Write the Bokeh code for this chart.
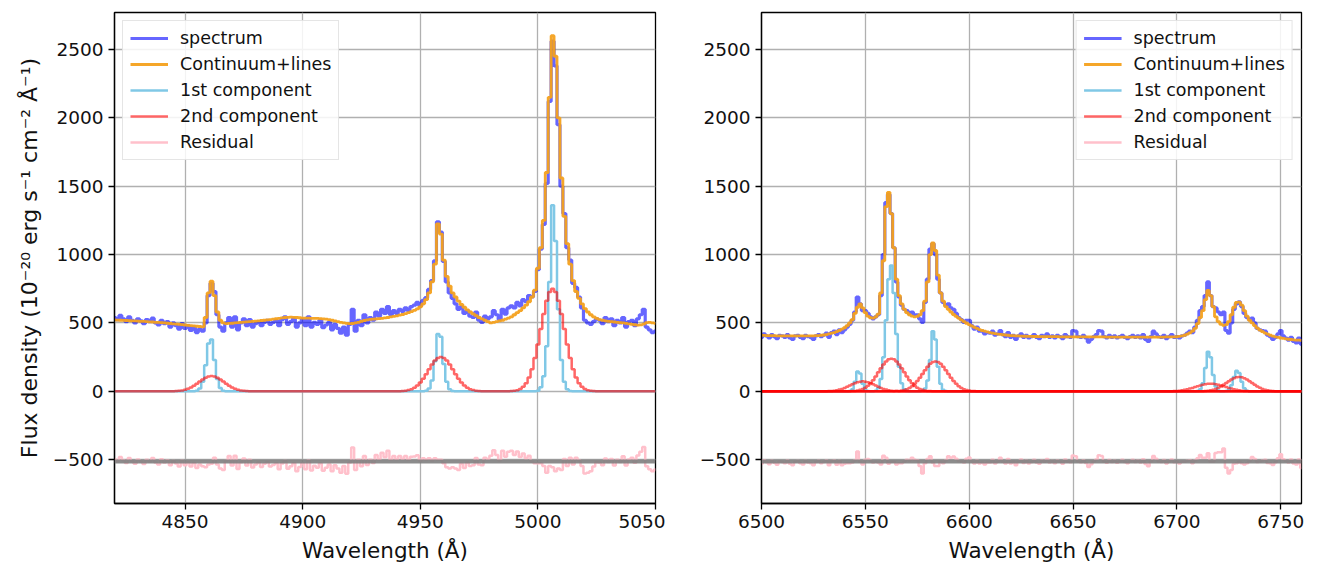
import numpy as np
from bokeh.plotting import figure
from bokeh.layouts import row
from bokeh.models import Legend, LegendItem, FixedTicker, Span
from bokeh.embed import file_html
from bokeh.resources import INLINE

# ---------------- data ----------------
PIX = 1.25  # spectral pixel (Angstrom)
left_start, left_end = 4820.0, 5050.0
right_start, right_end = 6500.0, 6760.0
resid_offset = -512

y_ticks = [-500, 0, 500, 1000, 1500, 2000, 2500]
left_xticks = [4850, 4900, 4950, 5000, 5050]
right_xticks = [6500, 6550, 6600, 6650, 6700, 6750]

flux_left = [
    540, 525, 555, 530, 510, 545, 520, 500,
    530, 515, 495, 525, 510, 535, 500, 485,
    520, 495, 510, 470, 500, 480, 455, 495,
    460, 480, 445, 470, 430, 455, 440, 500,
    700, 790, 730, 560, 470, 440, 500, 540,
    470, 545, 450, 500, 530, 480, 525, 470,
    495, 510, 480, 505, 520, 490, 505, 520,
    480, 525, 545, 490, 510, 530, 470, 500,
    525, 480, 545, 470, 505, 490, 520, 465,
    485, 505, 450, 490, 460, 425, 470, 410,
    490, 600, 440, 520, 480, 560, 500, 540,
    520, 580, 550, 600, 570, 620, 560, 590,
    570, 600, 585, 610, 590, 620, 630, 650,
    625, 665, 685, 745, 810, 955, 1240, 1165,
    950, 800, 720, 680, 640, 600, 620, 570,
    590, 550, 540, 580, 520, 505, 550, 530,
    545, 590, 560, 525, 600, 565, 610, 625,
    610, 650, 625, 670, 655, 700, 690, 730,
    890, 1040, 1220, 1520, 2120, 2560, 2380, 1950,
    1500, 1300, 1050, 960, 790, 760, 690, 610,
    520, 500, 490, 510, 530, 520, 495, 540,
    510, 530, 480, 520, 500, 540, 470, 510,
    520, 480, 530, 560, 600, 470, 450, 430,
    440]

model_left = [
    522, 521, 520, 519, 518, 517, 516, 515,
    513, 512, 511, 510, 508, 507, 505, 504,
    502, 500, 498, 496, 494, 492, 490, 488,
    485, 482, 480, 478, 476, 474, 472, 540,
    720, 805, 700, 580, 520, 500, 495, 497,
    498, 500, 502, 504, 506, 508, 510, 512,
    514, 516, 518, 520, 522, 525, 528, 531,
    534, 537, 540, 541, 542, 541, 540, 538,
    536, 535, 535, 534, 534, 533, 532, 530,
    528, 525, 520, 515, 510, 505, 500, 497,
    495, 496, 500, 505, 512, 518, 523, 526,
    528, 530, 532, 534, 537, 540, 544, 548,
    552, 557, 562, 568, 575, 583, 592, 603,
    618, 640, 670, 720, 800, 930, 1225, 1150,
    960, 840, 770, 720, 690, 660, 635, 615,
    595, 580, 566, 553, 540, 530, 520, 510,
    500, 505, 510, 515, 520, 528, 536, 545,
    560, 575, 590, 610, 630, 655, 690, 740,
    900, 1050, 1250, 1600, 2150, 2600, 2450, 2000,
    1560, 1280, 1080, 930, 810, 730, 680, 640,
    605, 580, 560, 545, 533, 525, 520, 516,
    512, 510, 507, 505, 502, 500, 497, 494,
    490, 487, 484, 486, 492, 502, 505, 500,
    497]

resid_left = [
    -497, -511, -480, -504, -523, -487, -511, -530,
    -498, -512, -531, -500, -513, -487, -520, -534,
    -497, -520, -503, -541, -509, -527, -550, -508,
    -540, -517, -550, -523, -561, -534, -547, -555,
    -535, -530, -485, -535, -565, -575, -510, -472,
    -543, -470, -567, -519, -491, -543, -500, -557,
    -534, -521, -553, -530, -517, -550, -538, -526,
    -569, -527, -510, -566, -547, -526, -585, -553,
    -526, -570, -505, -579, -544, -558, -527, -580,
    -558, -535, -585, -540, -565, -595, -545, -602,
    -520, -411, -575, -500, -547, -473, -538, -501,
    -523, -465, -497, -449, -482, -435, -499, -473,
    -497, -472, -492, -473, -500, -478, -477, -468,
    -508, -490, -500, -490, -505, -490, -500, -500,
    -525, -555, -565, -555, -565, -575, -530, -560,
    -520, -545, -541, -488, -535, -540, -485, -495,
    -470, -430, -465, -505, -435, -478, -441, -435,
    -465, -440, -480, -455, -490, -470, -515, -525,
    -525, -525, -545, -595, -545, -555, -585, -565,
    -575, -495, -545, -485, -535, -485, -505, -545,
    -600, -595, -585, -550, -518, -520, -540, -491,
    -517, -495, -542, -500, -517, -475, -542, -499,
    -485, -522, -469, -441, -407, -547, -570, -585,
    -572]

# narrow (1st) components, left panel: (first wavelength, values)
comp1_left = [
    (4855.0, [5, 20, 70, 190, 350, 380, 230, 90, 25, 5]),
    (4952.5, [5, 20, 80, 220, 420, 400, 200, 70, 15, 3]),
    (5000.0, [5, 30, 110, 330, 800, 1360, 1100, 600, 230, 70, 15, 3]),
]
# broad (2nd) components, left panel
comp2_left = [
    (4845.0, [1, 2, 4, 7, 12, 19, 29, 41, 56, 72, 87, 100, 109, 112, 109, 100,
              87, 72, 56, 41, 29, 19, 12, 7, 4, 2, 1]),
    (4941.25, [1, 2, 5, 9, 16, 26, 42, 64, 92, 125, 161, 196, 225, 244, 251, 244,
               225, 196, 161, 125, 92, 64, 42, 26, 16, 9, 5, 2, 1]),
    (4988.75, [2, 4, 8, 17, 33, 60, 101, 162, 244, 343, 455, 566, 662, 727, 750,
               727, 662, 566, 455, 343, 244, 162, 101, 60, 33, 17, 8, 4, 2]),
]

flux_right = [
    395, 420, 405, 390, 415, 400, 385, 410,
    405, 395, 415, 390, 380, 405, 410, 395,
    385, 410, 400, 395, 380, 405, 415, 400,
    410, 425, 395, 430, 440, 415, 450, 430,
    450, 470, 490, 520, 580, 690, 640, 590,
    590, 570, 545, 530, 545, 560, 700, 1000,
    1380, 1440, 1300, 1050, 800, 690, 630, 600,
    590, 570, 580, 560, 560, 530, 505, 650,
    820, 1040, 1080, 1000, 820, 720, 650, 630,
    640, 610, 600, 570, 540, 525, 505, 520,
    520, 480, 455, 470, 440, 440, 420, 430,
    425, 440, 410, 420, 445, 415, 400, 430,
    395, 410, 380, 405, 420, 395, 410, 390,
    400, 415, 395, 385, 410, 400, 420, 395,
    405, 390, 410, 400, 385, 415, 400, 395,
    445, 440, 400, 395, 410, 390, 360, 380,
    400, 415, 445, 440, 400, 390, 410, 395,
    405, 390, 400, 410, 395, 385, 400, 410,
    395, 405, 390, 415, 380, 365, 400, 440,
    420, 400, 395, 410, 385, 400, 415, 395,
    400, 390, 405, 410, 425, 440, 430, 470,
    520, 590, 620, 700, 800, 700, 620, 610,
    580, 560, 580, 445, 425, 500, 600, 640,
    655, 620, 570, 540, 525, 535, 500, 460,
    450, 445, 440, 410, 400, 380, 395, 420,
    445, 405, 390, 375, 395, 365, 355, 390,
    345]

model_right = [
    410, 409, 408, 408, 407, 407, 406, 406,
    406, 405, 405, 405, 405, 405, 405, 405,
    405, 405, 405, 406, 406, 407, 408, 410,
    412, 415, 420, 425, 430, 437, 445, 455,
    465, 480, 500, 525, 570, 615, 640, 610,
    575, 550, 538, 535, 545, 565, 720, 955,
    1350, 1455, 1300, 1050, 820, 700, 640, 600,
    575, 560, 550, 545, 548, 560, 590, 660,
    800, 1000, 1085, 1030, 850, 720, 660, 620,
    600, 580, 562, 548, 535, 522, 510, 498,
    488, 478, 468, 460, 452, 445, 440, 435,
    430, 426, 422, 419, 416, 414, 412, 410,
    408, 407, 406, 405, 404, 403, 403, 402,
    402, 401, 401, 400, 400, 400, 400, 400,
    400, 400, 400, 399, 399, 399, 399, 399,
    399, 399, 398, 398, 398, 398, 398, 398,
    398, 398, 398, 398, 398, 397, 397, 397,
    397, 397, 396, 396, 396, 396, 396, 396,
    396, 396, 396, 396, 396, 397, 397, 397,
    397, 397, 397, 397, 398, 398, 398, 399,
    400, 402, 405, 410, 418, 428, 440, 460,
    495, 540, 590, 670, 738, 700, 620, 545,
    510, 490, 483, 488, 510, 560, 615, 650,
    653, 630, 590, 550, 520, 500, 480, 462,
    448, 436, 426, 418, 410, 404, 398, 394,
    390, 387, 384, 381, 379, 377, 375, 374,
    372]

resid_right = [
    -530, -504, -518, -533, -507, -522, -536, -511,
    -516, -525, -505, -530, -540, -515, -510, -525,
    -535, -510, -520, -526, -541, -517, -508, -525,
    -517, -505, -540, -510, -505, -537, -510, -540,
    -530, -525, -525, -520, -505, -440, -515, -535,
    -500, -495, -508, -520, -515, -520, -535, -470,
    -485, -530, -515, -515, -535, -525, -525, -515,
    -500, -505, -485, -500, -503, -545, -600, -525,
    -495, -475, -520, -545, -545, -515, -525, -505,
    -475, -485, -477, -493, -510, -512, -520, -493,
    -483, -513, -528, -505, -527, -520, -535, -520,
    -520, -501, -527, -514, -486, -514, -527, -495,
    -528, -512, -541, -515, -499, -523, -508, -527,
    -517, -501, -521, -530, -505, -515, -495, -520,
    -510, -525, -505, -514, -529, -499, -514, -519,
    -469, -474, -513, -518, -503, -523, -553, -533,
    -513, -498, -468, -473, -513, -522, -502, -517,
    -507, -522, -511, -501, -516, -526, -511, -501,
    -516, -506, -521, -496, -531, -547, -512, -472,
    -492, -512, -517, -502, -528, -513, -498, -519,
    -515, -527, -515, -515, -508, -503, -525, -505,
    -490, -465, -485, -485, -453, -515, -515, -450,
    -445, -445, -418, -558, -600, -575, -530, -525,
    -513, -525, -535, -525, -510, -480, -495, -517,
    -513, -506, -501, -523, -525, -539, -518, -489,
    -460, -497, -509, -521, -499, -527, -535, -499,
    -560]

comp1_right = [
    (6542.5, [3, 15, 70, 145, 130, 55, 12, 2]),
    (6555.0, [5, 25, 90, 250, 520, 820, 920, 720, 420, 180, 60, 15, 3]),
    (6577.5, [4, 20, 80, 230, 440, 380, 180, 55, 12, 2]),
    (6710.0, [3, 15, 60, 170, 290, 250, 120, 35, 7, 1]),
    (6723.75, [3, 12, 45, 105, 150, 135, 70, 22, 5, 1]),
]
comp2_right = [
    (6531.25, [1, 2, 3, 5, 8, 13, 18, 25, 33, 42, 52, 60, 67, 71, 73, 71, 67, 60,
               52, 42, 33, 25, 18, 13, 8, 5, 3, 2, 1]),
    (6543.75, [2, 3, 6, 11, 17, 27, 41, 60, 82, 109, 139, 169, 197, 219, 234, 239,
               234, 219, 197, 169, 139, 109, 82, 60, 41, 27, 17, 11, 6, 3, 2]),
    (6565.0, [2, 3, 6, 10, 16, 25, 38, 55, 76, 100, 127, 155, 180, 201, 214, 219,
              214, 201, 180, 155, 127, 100, 76, 55, 38, 25, 16, 10, 6, 3, 2]),
    (6697.5, [1, 2, 3, 5, 8, 11, 15, 20, 25, 31, 37, 43, 48, 52, 55, 56, 55, 52,
              48, 43, 37, 31, 25, 20, 15, 11, 8, 5, 3, 2, 1]),
    (6712.5, [1, 3, 5, 8, 12, 18, 26, 36, 48, 61, 74, 86, 96, 103, 105, 103, 96,
              86, 74, 61, 48, 36, 26, 18, 12, 8, 5, 3, 1]),
]

labels = ["spectrum", "Continuum+lines", "1st component", "2nd component", "Residual"]

# ---------------- helpers ----------------
FONT = "DejaVu Sans"
C_SPEC, C_MODEL, C_C1, C_C2, C_RES = "blue", "#f4a11d", "#80c8e6", "red", "pink"


def pixel_grid(start, n):
    return start + PIX * np.arange(n)


def on_grid(start, n, segments):
    arr = np.zeros(n)
    for s, vals in segments:
        i = int(round((s - start) / PIX))
        arr[i:i + len(vals)] = vals
    return arr


def make_fig(xr, xticks, width, mbl, mbr, ylabel=None):
    p = figure(width=width, height=579, x_range=xr, y_range=(-820, 2770),
               output_backend="svg", toolbar_location=None,
               min_border_left=mbl, min_border_right=mbr,
               min_border_top=12, min_border_bottom=76)
    p.xaxis.ticker = FixedTicker(ticks=xticks)
    p.yaxis.ticker = FixedTicker(ticks=y_ticks)
    p.yaxis.major_label_overrides = {-500: "\u2212500"}
    for ax in (p.xaxis[0], p.yaxis[0]):
        ax.major_label_text_font = FONT
        ax.major_label_text_font_size = "18.5px"
        ax.major_label_text_color = "#111111"
        ax.axis_label_text_font = FONT
        ax.axis_label_text_font_size = "21.5px"
        ax.axis_label_text_font_style = "normal"
        ax.axis_label_text_color = "#111111"
        ax.major_tick_out = 6
        ax.major_tick_in = 0
        ax.minor_tick_out = 0
        ax.minor_tick_in = 0
        ax.axis_line_color = "black"
        ax.axis_line_width = 1.3
        ax.major_tick_line_color = "black"
        ax.major_tick_line_width = 1.3
        ax.major_label_standoff = 5
    p.xaxis.axis_label = "Wavelength (\u00c5)"
    p.xaxis.axis_label_standoff = 7
    if ylabel:
        p.yaxis.axis_label = ylabel
        p.yaxis.axis_label_text_font_size = "22px"
        p.yaxis.axis_label_standoff = 8
    p.grid.grid_line_color = "#b0b0b0"
    p.grid.grid_line_width = 1.3
    p.outline_line_color = "black"
    p.outline_line_width = 1.3
    return p


def draw_panel(p, start, flux, model, resid, comp1, comp2_list, legend_loc):
    n = len(flux)
    x = pixel_grid(start, n)
    r_spec = p.step(x, flux, mode="center", line_color=C_SPEC, line_alpha=0.6, line_width=3.2)
    r_mod = p.step(x, model, mode="center", line_color=C_MODEL, line_alpha=0.95, line_width=2.8)
    r_c1 = p.step(x, on_grid(start, n, comp1), mode="center", line_color=C_C1, line_width=2.5)
    r_c2 = []
    for segs in comp2_list:
        r_c2.append(p.step(x, on_grid(start, n, segs), mode="center",
                           line_color=C_C2, line_alpha=0.6, line_width=2.5))
    r_res = p.step(x, resid, mode="center", line_color=C_RES, line_width=2.5)
    p.add_layout(Span(location=resid_offset, dimension="width", line_color="gray",
                      line_alpha=0.9, line_width=4))
    items = [LegendItem(label=labels[0], renderers=[r_spec]),
             LegendItem(label=labels[1], renderers=[r_mod]),
             LegendItem(label=labels[2], renderers=[r_c1]),
             LegendItem(label=labels[3], renderers=[r_c2[0]]),
             LegendItem(label=labels[4], renderers=[r_res])]
    leg = Legend(items=items, location=legend_loc,
                 label_text_font=FONT, label_text_font_size="17.5px",
                 label_text_color="#111111",
                 glyph_width=38, glyph_height=20, label_height=20,
                 spacing=6, padding=7, margin=8, label_standoff=12,
                 border_line_color="#cccccc", border_line_width=1.3,
                 background_fill_color="white", background_fill_alpha=0.85)
    p.add_layout(leg)


p1 = make_fig((left_start, left_end), left_xticks, 665, 114, 10,
              ylabel="Flux density (10\u207b\u00b2\u2070 erg s\u207b\u00b9 cm\u207b\u00b2 \u00c5\u207b\u00b9)")
draw_panel(p1, left_start, flux_left, model_left, resid_left, comp1_left, [comp2_left], "top_left")

p2 = make_fig((right_start, right_end), right_xticks, 655, 96, 19)
draw_panel(p2, right_start, flux_right, model_right, resid_right, comp1_right,
           [[s] for s in comp2_right], "top_right")

layout = row(p1, p2)
open("out.html", "w").write(file_html(layout, INLINE))
